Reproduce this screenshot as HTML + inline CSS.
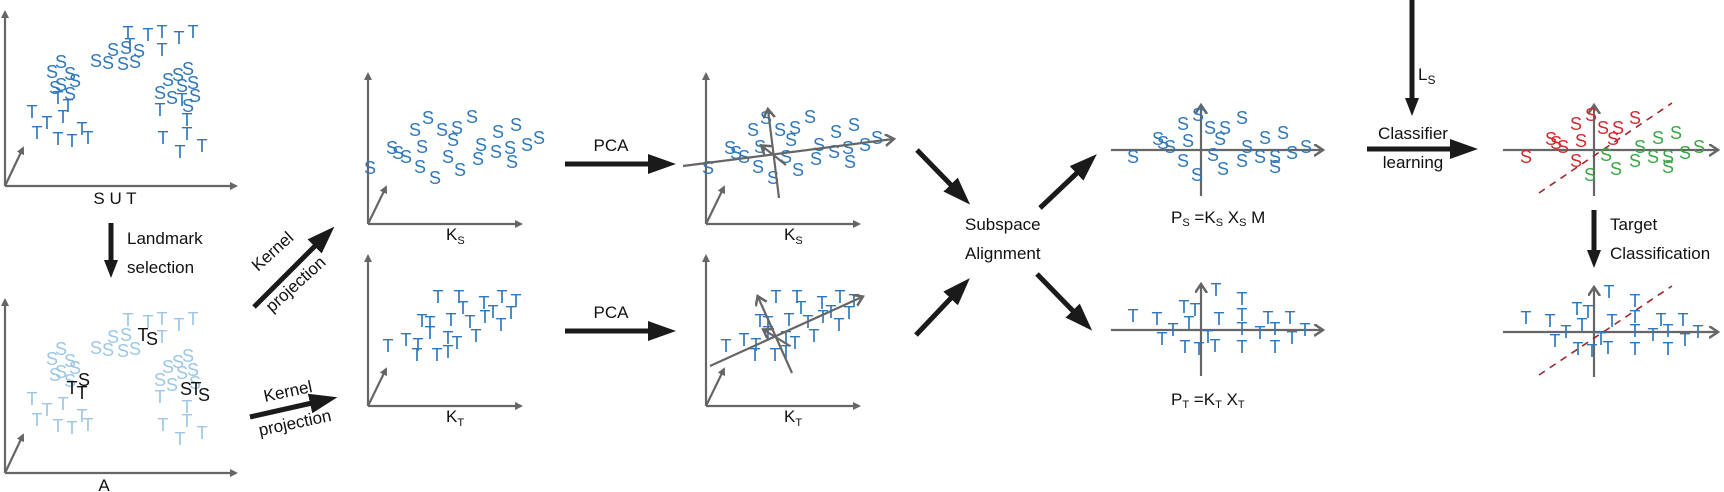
<!DOCTYPE html>
<html><head><meta charset="utf-8"><style>
html,body{margin:0;padding:0;background:#fff}
svg{display:block;font-family:"Liberation Sans","DejaVu Sans",sans-serif}
.L text{text-anchor:middle;dominant-baseline:central;font-size:18px}
.b{fill:#2f78ba}.lb{fill:#9cc7e6}.k{fill:#111}.r{fill:#d42a2e}.g{fill:#3aa646}
.ax{stroke:#666;stroke-width:2.2;fill:none}
.fl{stroke:#1a1a1a;stroke-width:5;fill:none}
.tx{font-size:17px;fill:#111}
</style></head><body>
<svg width="1724" height="492" viewBox="0 0 1724 492" xmlns="http://www.w3.org/2000/svg">
<defs>
<marker id="ga" markerWidth="10" markerHeight="10" refX="6" refY="4" orient="auto" markerUnits="userSpaceOnUse"><path d="M0,0 L8,4 L0,8 z" fill="#666"/></marker>
<marker id="gv" markerWidth="14" markerHeight="14" refX="8" refY="6" orient="auto" markerUnits="userSpaceOnUse"><path d="M0,0 L9,6 L0,12" fill="none" stroke="#666" stroke-width="2.5"/></marker>
<marker id="ba" markerWidth="30" markerHeight="24" refX="2" refY="10" orient="auto" markerUnits="userSpaceOnUse"><path d="M0,0 L28,10 L0,20 z" fill="#1a1a1a"/></marker>
<marker id="bs" markerWidth="20" markerHeight="20" refX="2" refY="7" orient="auto" markerUnits="userSpaceOnUse"><path d="M0,0 L18,7 L0,14 z" fill="#1a1a1a"/></marker>
</defs>

<!-- Panel 1 -->
<g class="ax">
<path d="M5,186 V12" marker-end="url(#ga)"/><path d="M5,186 H236" marker-end="url(#ga)"/><path d="M5,186 L23,148" marker-end="url(#ga)"/>
<path d="M5,473 V300" marker-end="url(#ga)"/><path d="M5,473 H236" marker-end="url(#ga)"/><path d="M5,473 L23,435" marker-end="url(#ga)"/>
</g>
<text x="115" y="204" class="tx" text-anchor="middle" font-size="16">S U T</text>
<text x="104" y="491" class="tx" text-anchor="middle" font-size="16">A</text>

<g class="L b">
<text x="128" y="33">T</text><text x="148" y="35">T</text><text x="162" y="32">T</text><text x="179" y="38">T</text><text x="193" y="32">T</text><text x="162" y="50">T</text>
<text x="113" y="50">S</text><text x="126" y="48">S</text><text x="130" y="45">T</text><text x="139" y="51">S</text>
<text x="96" y="61">S</text><text x="108" y="63">S</text><text x="123" y="64">S</text><text x="135" y="62">S</text>
<text x="61" y="62">S</text><text x="52" y="72">S</text><text x="70" y="74">S</text><text x="75" y="81">S</text><text x="55" y="88">S</text><text x="61" y="85">S</text><text x="70" y="94">S</text>
<text x="58" y="98">T</text><text x="68" y="106">T</text><text x="32" y="112">T</text><text x="47" y="123">T</text><text x="63" y="117">T</text><text x="37" y="133">T</text><text x="58" y="139">T</text><text x="72" y="141">T</text><text x="82" y="129">T</text><text x="88" y="138">T</text>
<text x="188" y="69">S</text><text x="178" y="75">S</text><text x="168" y="80">S</text><text x="182" y="86">S</text><text x="193" y="83">S</text><text x="160" y="93">S</text><text x="172" y="98">S</text><text x="195" y="96">S</text><text x="188" y="106">S</text><text x="182" y="100">T</text>
<text x="160" y="110">T</text><text x="187" y="120">T</text><text x="163" y="138">T</text><text x="187" y="134">T</text><text x="180" y="152">T</text><text x="202" y="146">T</text>
</g>
<g class="L lb" transform="translate(0,287)">
<text x="128" y="33">T</text><text x="148" y="35">T</text><text x="162" y="32">T</text><text x="179" y="38">T</text><text x="193" y="32">T</text><text x="162" y="50">T</text>
<text x="113" y="50">S</text><text x="126" y="48">S</text>
<text x="96" y="61">S</text><text x="108" y="63">S</text><text x="123" y="64">S</text><text x="135" y="62">S</text>
<text x="61" y="62">S</text><text x="52" y="72">S</text><text x="70" y="74">S</text><text x="75" y="81">S</text><text x="55" y="88">S</text><text x="61" y="85">S</text><text x="70" y="94">S</text>
<text x="32" y="112">T</text><text x="47" y="123">T</text><text x="63" y="117">T</text><text x="37" y="133">T</text><text x="58" y="139">T</text><text x="72" y="141">T</text><text x="82" y="129">T</text><text x="88" y="138">T</text>
<text x="188" y="69">S</text><text x="178" y="75">S</text><text x="168" y="80">S</text><text x="182" y="86">S</text><text x="193" y="83">S</text><text x="160" y="93">S</text><text x="172" y="98">S</text><text x="195" y="96">S</text>
<text x="160" y="110">T</text><text x="187" y="120">T</text><text x="163" y="138">T</text><text x="187" y="134">T</text><text x="180" y="152">T</text><text x="202" y="146">T</text>
</g>
<g class="L k">
<text x="143" y="335">T</text><text x="152" y="339">S</text>
<text x="72" y="388">T</text><text x="84" y="380">S</text><text x="82" y="393">T</text>
<text x="186" y="389">S</text><text x="196" y="389">T</text><text x="204" y="395">S</text>
</g>

<!-- Landmark -->
<path class="fl" d="M111,223 V262" stroke-width="4" marker-end="url(#bs)"/>
<text x="127" y="244" class="tx">Landmark</text>
<text x="127" y="273" class="tx">selection</text>

<!-- Kernel projections -->
<path class="fl" d="M254,307 L316,245" marker-end="url(#ba)"/>
<text transform="translate(258,272) rotate(-42)" class="tx">Kernel</text>
<text transform="translate(272,313) rotate(-42)" class="tx">projection</text>
<path class="fl" d="M250,417 L312,403" marker-end="url(#ba)"/>
<text transform="translate(265,402) rotate(-12)" class="tx">Kernel</text>
<text transform="translate(260,436) rotate(-12)" class="tx">projection</text>

<!-- Ks / Kt panels -->
<g class="ax">
<path d="M368,224 V74" marker-end="url(#ga)"/><path d="M368,224 H521" marker-end="url(#ga)"/><path d="M368,224 L386,187" marker-end="url(#ga)"/>
<path d="M368,406 V256" marker-end="url(#ga)"/><path d="M368,406 H521" marker-end="url(#ga)"/><path d="M368,406 L386,369" marker-end="url(#ga)"/>
<path d="M706,224 V74" marker-end="url(#ga)"/><path d="M706,224 H859" marker-end="url(#ga)"/><path d="M706,224 L724,187" marker-end="url(#ga)"/>
<path d="M706,406 V256" marker-end="url(#ga)"/><path d="M706,406 H859" marker-end="url(#ga)"/><path d="M706,406 L724,369" marker-end="url(#ga)"/>
</g>
<text x="446" y="240" class="tx" font-size="14">K<tspan font-size="11" dy="4">S</tspan></text>
<text x="446" y="422" class="tx" font-size="14">K<tspan font-size="11" dy="4">T</tspan></text>
<text x="784" y="240" class="tx" font-size="14">K<tspan font-size="11" dy="4">S</tspan></text>
<text x="784" y="422" class="tx" font-size="14">K<tspan font-size="11" dy="4">T</tspan></text>

<g class="L b">
<text x="370" y="168">S</text><text x="392" y="148">S</text><text x="398" y="153">S</text><text x="406" y="157">S</text><text x="415" y="130">S</text><text x="428" y="118">S</text><text x="422" y="147">S</text><text x="420" y="167">S</text><text x="435" y="178">S</text><text x="442" y="130">S</text><text x="457" y="128">S</text><text x="453" y="140">S</text><text x="448" y="157">S</text><text x="460" y="170">S</text><text x="472" y="117">S</text><text x="481" y="145">S</text><text x="478" y="159">S</text><text x="498" y="132">S</text><text x="496" y="152">S</text><text x="510" y="148">S</text><text x="512" y="162">S</text><text x="516" y="125">S</text><text x="527" y="145">S</text><text x="539" y="138">S</text>
<text x="388" y="346">T</text><text x="406" y="340">T</text><text x="418" y="345">T</text><text x="417" y="355">T</text><text x="422" y="321">T</text><text x="430" y="323">T</text><text x="430" y="333">T</text><text x="437" y="355">T</text><text x="438" y="297">T</text><text x="448" y="352">T</text><text x="448" y="338">T</text><text x="457" y="343">T</text><text x="451" y="320">T</text><text x="459" y="297">T</text><text x="463" y="308">T</text><text x="470" y="322">T</text><text x="476" y="336">T</text><text x="485" y="317">T</text><text x="484" y="303">T</text><text x="493" y="312">T</text><text x="502" y="297">T</text><text x="501" y="325">T</text><text x="511" y="313">T</text><text x="516" y="301">T</text>
</g>
<g class="L b" transform="translate(338,0)">
<text x="370" y="168">S</text><text x="392" y="148">S</text><text x="398" y="153">S</text><text x="406" y="157">S</text><text x="415" y="130">S</text><text x="428" y="118">S</text><text x="422" y="147">S</text><text x="420" y="167">S</text><text x="435" y="178">S</text><text x="442" y="130">S</text><text x="457" y="128">S</text><text x="453" y="140">S</text><text x="448" y="157">S</text><text x="460" y="170">S</text><text x="472" y="117">S</text><text x="481" y="145">S</text><text x="478" y="159">S</text><text x="498" y="132">S</text><text x="496" y="152">S</text><text x="510" y="148">S</text><text x="512" y="162">S</text><text x="516" y="125">S</text><text x="527" y="145">S</text><text x="539" y="138">S</text>
<text x="388" y="346">T</text><text x="406" y="340">T</text><text x="418" y="345">T</text><text x="417" y="355">T</text><text x="422" y="321">T</text><text x="430" y="323">T</text><text x="430" y="333">T</text><text x="437" y="355">T</text><text x="438" y="297">T</text><text x="448" y="352">T</text><text x="448" y="338">T</text><text x="457" y="343">T</text><text x="451" y="320">T</text><text x="459" y="297">T</text><text x="463" y="308">T</text><text x="470" y="322">T</text><text x="476" y="336">T</text><text x="485" y="317">T</text><text x="484" y="303">T</text><text x="493" y="312">T</text><text x="502" y="297">T</text><text x="501" y="325">T</text><text x="511" y="313">T</text><text x="516" y="301">T</text>
</g>
<!-- PCA axes -->
<g class="ax">
<path d="M683,166 L893,139" marker-end="url(#gv)"/>
<path d="M779,198 L768,110" marker-end="url(#gv)"/>
<path d="M786,165 L762,146" marker-end="url(#gv)"/>
<path d="M710,366 L862,297" marker-end="url(#gv)"/>
<path d="M792,373 L758,297" marker-end="url(#gv)"/>
<path d="M790,346 L764,330" marker-end="url(#gv)"/>
</g>

<!-- PCA arrows -->
<path class="fl" d="M565,164 H650" marker-end="url(#ba)"/>
<text x="611" y="151" class="tx" text-anchor="middle">PCA</text>
<path class="fl" d="M565,331 H650" marker-end="url(#ba)"/>
<text x="611" y="318" class="tx" text-anchor="middle">PCA</text>

<!-- Subspace alignment -->
<path class="fl" d="M917,150 L952,186" stroke-width="4.5" marker-end="url(#ba)"/>
<path class="fl" d="M916,335 L952,297" stroke-width="4.5" marker-end="url(#ba)"/>
<text x="965" y="230" class="tx">Subspace</text>
<text x="965" y="259" class="tx">Alignment</text>
<path class="fl" d="M1040,208 L1078,172" stroke-width="4.5" marker-end="url(#ba)"/>
<path class="fl" d="M1037,274 L1074,312" stroke-width="4.5" marker-end="url(#ba)"/>

<!-- P_S / P_T axes -->
<g class="ax">
<path d="M1111,150 H1322" marker-end="url(#gv)"/><path d="M1201,196 V106" marker-end="url(#gv)"/>
<path d="M1111,330 H1322" marker-end="url(#gv)"/><path d="M1201,376 V285" marker-end="url(#gv)"/>
<path d="M1503,150 H1717" marker-end="url(#gv)"/><path d="M1594,196 V106" marker-end="url(#gv)"/>
<path d="M1503,332 H1717" marker-end="url(#gv)"/><path d="M1594,377 V288" marker-end="url(#gv)"/>
</g>
<path d="M1539,193 L1672,103" stroke="#a0282c" stroke-width="1.6" stroke-dasharray="7,6" fill="none"/>
<path d="M1539,375 L1672,286" stroke="#a0282c" stroke-width="1.6" stroke-dasharray="7,6" fill="none"/>
<text x="1171" y="223" class="tx" font-size="15">P<tspan font-size="11" dy="3">S</tspan><tspan dy="-3"> =K</tspan><tspan font-size="11" dy="3">S</tspan><tspan dy="-3"> X</tspan><tspan font-size="11" dy="3">S</tspan><tspan dy="-3"> M</tspan></text>
<text x="1171" y="405" class="tx" font-size="15">P<tspan font-size="11" dy="3">T</tspan><tspan dy="-3"> =K</tspan><tspan font-size="11" dy="3">T</tspan><tspan dy="-3"> X</tspan><tspan font-size="11" dy="3">T</tspan></text>

<g class="L b">
<text x="1133" y="157">S</text><text x="1158" y="139">S</text><text x="1163" y="143">S</text><text x="1170" y="147">S</text><text x="1183" y="124">S</text><text x="1198" y="115">S</text><text x="1188" y="141">S</text><text x="1183" y="161">S</text><text x="1197" y="175">S</text><text x="1210" y="128">S</text><text x="1225" y="128">S</text><text x="1220" y="139">S</text><text x="1213" y="155">S</text><text x="1223" y="169">S</text><text x="1242" y="118">S</text><text x="1247" y="147">S</text><text x="1242" y="161">S</text><text x="1265" y="138">S</text><text x="1260" y="157">S</text><text x="1275" y="157">S</text><text x="1275" y="167">S</text><text x="1283" y="133">S</text><text x="1292" y="153">S</text><text x="1306" y="147">S</text>
</g>
<g class="L b" id="pt">
<text x="1133" y="316">T</text><text x="1157" y="319">T</text><text x="1173" y="330">T</text><text x="1162" y="339">T</text><text x="1184" y="307">T</text><text x="1195" y="310">T</text><text x="1189" y="323">T</text><text x="1185" y="347">T</text><text x="1199" y="349">T</text><text x="1215" y="346">T</text><text x="1208" y="337">T</text><text x="1216" y="290">T</text><text x="1219" y="319">T</text><text x="1242" y="299">T</text><text x="1242" y="315">T</text><text x="1242" y="329">T</text><text x="1242" y="347">T</text><text x="1260" y="333">T</text><text x="1268" y="318">T</text><text x="1275" y="329">T</text><text x="1275" y="347">T</text><text x="1290" y="318">T</text><text x="1292" y="338">T</text><text x="1305" y="330">T</text>
</g>
<!-- classified panel -->
<g class="L" transform="translate(393,0)">
<text class="r" x="1133" y="157">S</text><text class="r" x="1158" y="139">S</text><text class="r" x="1163" y="143">S</text><text class="r" x="1170" y="147">S</text><text class="r" x="1183" y="124">S</text><text class="r" x="1198" y="115">S</text><text class="r" x="1188" y="141">S</text><text class="r" x="1183" y="161">S</text><text class="g" x="1197" y="175">S</text><text class="r" x="1210" y="128">S</text><text class="r" x="1225" y="128">S</text><text class="r" x="1220" y="139">S</text><text class="g" x="1213" y="155">S</text><text class="g" x="1223" y="169">S</text><text class="r" x="1242" y="118">S</text><text class="g" x="1247" y="147">S</text><text class="g" x="1242" y="161">S</text><text class="g" x="1265" y="138">S</text><text class="g" x="1260" y="157">S</text><text class="g" x="1275" y="157">S</text><text class="g" x="1275" y="167">S</text><text class="g" x="1283" y="133">S</text><text class="g" x="1292" y="153">S</text><text class="g" x="1306" y="147">S</text>
</g>
<g class="L b" transform="translate(393,2)">
<text x="1133" y="316">T</text><text x="1157" y="319">T</text><text x="1173" y="330">T</text><text x="1162" y="339">T</text><text x="1184" y="307">T</text><text x="1195" y="310">T</text><text x="1189" y="323">T</text><text x="1185" y="347">T</text><text x="1199" y="349">T</text><text x="1215" y="346">T</text><text x="1208" y="337">T</text><text x="1216" y="290">T</text><text x="1219" y="319">T</text><text x="1242" y="299">T</text><text x="1242" y="315">T</text><text x="1242" y="329">T</text><text x="1242" y="347">T</text><text x="1260" y="333">T</text><text x="1268" y="318">T</text><text x="1275" y="329">T</text><text x="1275" y="347">T</text><text x="1290" y="318">T</text><text x="1292" y="338">T</text><text x="1305" y="330">T</text>
</g>

<!-- Classifier -->
<path class="fl" d="M1412,0 V100" stroke-width="3" marker-end="url(#bs)"/>
<text x="1418" y="80" class="tx" font-size="16">L<tspan font-size="12" dy="4">S</tspan></text>
<path class="fl" d="M1367,149 H1452" marker-end="url(#ba)"/>
<text x="1413" y="139" class="tx" text-anchor="middle" font-size="17">Classifier</text>
<text x="1413" y="168" class="tx" text-anchor="middle" font-size="17">learning</text>
<path class="fl" d="M1594,210 V252" stroke-width="3" marker-end="url(#bs)"/>
<text x="1610" y="230" class="tx" font-size="17">Target</text>
<text x="1610" y="259" class="tx" font-size="17">Classification</text>
</svg>
</body></html>
